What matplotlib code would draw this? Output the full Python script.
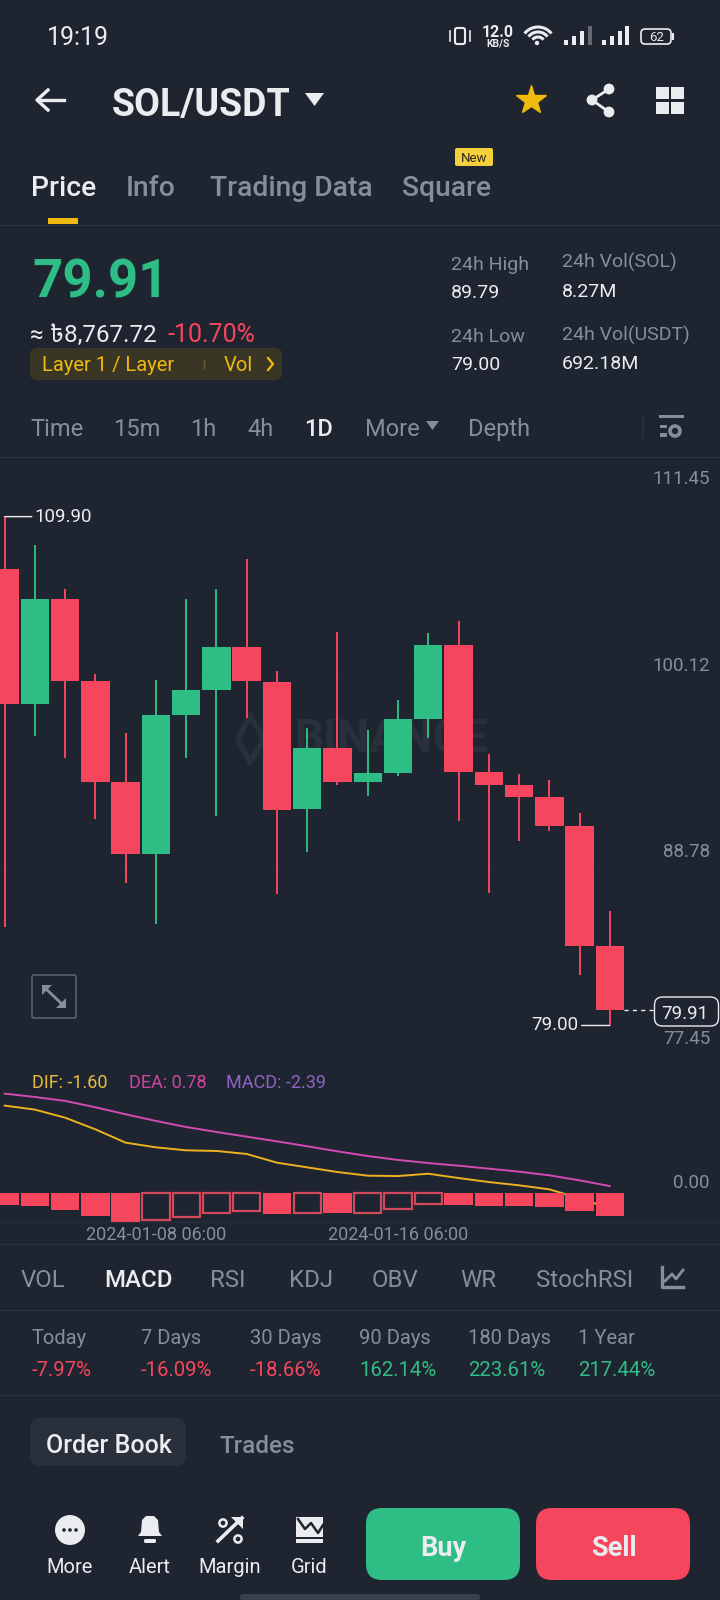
import matplotlib
matplotlib.use('Agg')
import matplotlib.pyplot as plt
from matplotlib.patches import Rectangle, FancyBboxPatch, Circle, Polygon, Arc

plt.rcParams['font.family'] = ['Roboto', 'Noto Sans Bengali', 'Noto Sans', 'DejaVu Sans']

BG = '#1E2530'
RED = '#F6465D'
GREEN = '#2EBD85'
YELLOW = '#F0B90B'
GRAY = '#848E9C'
WHITE = '#EAECEF'
LINE = '#2B323D'

# daily candles, first one is clipped by the left edge
opens = [106.71, 98.53, 104.92, 99.93, 93.76, 89.44, 97.88, 99.37, 101.99, 99.88, 92.14,
         95.83, 93.81, 94.35, 97.60, 102.11, 94.39, 93.60, 92.86, 91.09, 83.81]
closes = [98.53, 104.92, 99.93, 93.76, 89.44, 97.88, 99.37, 101.99, 99.90, 92.11, 95.83,
          93.81, 94.35, 97.60, 102.11, 94.39, 93.60, 92.86, 91.09, 83.81, 79.91]
highs = [109.90, 108.18, 105.48, 100.32, 96.79, 99.95, 104.90, 105.51, 107.34, 100.51, 97.07,
         102.88, 96.95, 98.74, 102.81, 103.58, 95.48, 94.25, 93.93, 91.88, 85.98]
lows = [84.98, 96.60, 95.25, 91.53, 87.67, 85.14, 95.25, 91.69, 97.69, 87.00, 89.51,
        93.62, 92.95, 94.16, 96.48, 91.42, 87.02, 90.18, 90.79, 82.07, 79.00]
price_ticks = [111.45, 100.12, 88.78, 77.45]

dif = [9.38, 8.95, 8.09, 6.84, 5.42, 4.92, 4.60, 4.53, 4.21, 3.28, 2.78,
       2.28, 1.89, 1.85, 2.10, 1.64, 1.21, 0.86, 0.43, -0.53, -1.60]
dea = [10.66, 10.30, 9.88, 9.20, 8.45, 7.74, 7.09, 6.56, 6.06, 5.56, 5.03,
       4.49, 3.99, 3.57, 3.24, 2.96, 2.64, 2.32, 1.93, 1.39, 0.78]
macd = [-1.25, -1.35, -1.78, -2.39, -3.03, -2.85, -2.53, -2.10, -1.93, -2.25, -2.12,
        -2.14, -2.07, -1.71, -1.14, -1.25, -1.32, -1.39, -1.46, -1.93, -2.39]
date_ticks = [5, 13]
date_labels = ['2024-01-08 06:00', '2024-01-16 06:00']

tabs = ['Price', 'Info', 'Trading Data', 'Square']
tab_x = [31, 126, 210, 402]
periods = ['Time', '15m', '1h', '4h', '1D', 'More', 'Depth']
period_x = [30, 113, 190, 247, 304, 365, 468]
indicators = ['VOL', 'MACD', 'RSI', 'KDJ', 'OBV', 'WR', 'StochRSI']
indicator_x = [21, 104, 210, 289, 372, 460, 536]
change_names = ['Today', '7 Days', '30 Days', '90 Days', '180 Days', '1 Year']
change_vals = ['-7.97%', '-16.09%', '-18.66%', '162.14%', '223.61%', '217.44%']
change_x = [32, 141, 250, 359, 468, 578]
bottom_names = ['More', 'Alert', 'Margin', 'Grid']
bottom_x = [70, 150, 230, 309]

fig = plt.figure(figsize=(7.2, 16), dpi=100, facecolor=BG)

# whole page in pixel coordinates, for the app chrome
ui = fig.add_axes([0, 0, 1, 1])
ui.set_xlim(0, 720)
ui.set_ylim(1600, 0)
ui.axis('off')


def t(x, y, s, size=14, color=WHITE, ha='left', weight='normal', ax=ui):
    # y is the middle of the capital letters
    return ax.text(x, y + 0.355 * size * 100 / 72, s, fontsize=size, color=color, ha=ha,
                   va='baseline', fontweight=weight)


def box(x0, y0, x1, y1, color, r=0, **kw):
    if r:
        p = FancyBboxPatch((x0 + r, y0 + r), x1 - x0 - 2 * r, y1 - y0 - 2 * r,
                           boxstyle=f'round,pad={r},rounding_size={r}', fc=color, ec='none', **kw)
    else:
        p = Rectangle((x0, y0), x1 - x0, y1 - y0, fc=color, ec='none', **kw)
    ui.add_patch(p)
    return p


# status bar
t(47, 36, '19:19', 18, WHITE)
ui.add_patch(FancyBboxPatch((455, 28), 10, 16, boxstyle='round,pad=0,rounding_size=2', fc='none', ec=WHITE, lw=1.5))
ui.plot([450, 450], [31, 41], color=WHITE, lw=1.2)
ui.plot([470, 470], [31, 41], color=WHITE, lw=1.2)
t(498, 31, '12.0', 11.5, WHITE, ha='center', weight='bold')
t(498, 43, 'KB/S', 7.5, WHITE, ha='center', weight='bold')
for d in (34, 24, 14):
    ui.add_patch(Arc((538, 44), d, d, theta1=218, theta2=322, color=WHITE, lw=2.2))
ui.add_patch(Circle((537, 43), 2.2, fc=WHITE, ec='none'))
for x0, alpha in ((564, 1), (572, 1), (580, 1), (588, 0.35)):
    h = {564: 5, 572: 9, 580: 14, 588: 19}[x0]
    box(x0, 45 - h, x0 + 3.5, 45, WHITE, alpha=alpha)
for x0, h in ((602, 5), (610, 9), (618, 14), (625, 19)):
    box(x0, 45 - h, x0 + 3.5, 45, WHITE)
ui.add_patch(FancyBboxPatch((641, 29), 30, 15, boxstyle='round,pad=0,rounding_size=4', fc='none', ec=WHITE, lw=1.2))
box(672, 33, 674, 40, WHITE)
t(656.5, 36.5, '62', 9.5, WHITE, ha='center')

# title row
ui.plot([38, 64], [100, 100], color=WHITE, lw=2.4)
ui.plot([48, 37, 48], [90, 100, 110], color=WHITE, lw=2.4)
t(112, 103, 'SOL/USDT', 27, WHITE, weight='bold')
ui.add_patch(Polygon([(305, 93), (324, 93), (314.5, 106)], fc=WHITE, ec='none'))
ui.plot([531], [100], marker='*', ms=22, color=YELLOW, mec=YELLOW)
for c in ((609, 89), (592, 100), (609, 112)):
    ui.add_patch(Circle(c, 5.4, fc=WHITE, ec='none'))
ui.plot([609, 592, 609], [89, 100, 112], color=WHITE, lw=2)
for x0, y0 in ((656, 87), (671, 87), (656, 102), (671, 102)):
    box(x0, y0, x0 + 12.5, y0 + 11.5, WHITE)

# tabs
box(455, 148, 493, 166, '#F5CE3C', r=2)
t(474, 157, 'New', 9.5, '#2A2A20', ha='center')
for name, x in zip(tabs, tab_x):
    t(x, 186, name, 20.3, WHITE if name == 'Price' else GRAY, weight='medium')
box(48, 218, 78, 224, YELLOW)
ui.plot([0, 720], [224.5, 224.5], color=LINE, lw=1)

# price block
t(32, 279, '79.91', 38, GREEN, weight='bold')
t(30, 333, '≈ ৳8,767.72', 17.5, WHITE)
t(168, 333, '-10.70%', 18, RED)
box(30, 348, 282, 380, '#3A3626', r=7)
t(42, 364, 'Layer 1 / Layer', 14.5, YELLOW)
ui.plot([204, 204], [360, 368], color='#6B6032', lw=1)
t(224, 364, 'Vol', 14.5, YELLOW)
ui.plot([268, 273, 268], [358, 364, 370], color=YELLOW, lw=1.6)

t(451, 263, '24h High', 14, GRAY)
t(451, 291, '89.79', 14, WHITE)
t(451, 335, '24h Low', 14, GRAY)
t(451, 363, '79.00', 14, WHITE)
t(562, 261, '24h Vol(SOL)', 14, GRAY)
t(562, 290, '8.27M', 14, WHITE)
t(562, 334, '24h Vol(USDT)', 14, GRAY)
t(562, 362, '692.18M', 14, WHITE)

# period row
for name, x in zip(periods, period_x):
    t(x, 428, name, 17, WHITE if name == '1D' else GRAY, weight='medium' if name == '1D' else 'normal')
ui.add_patch(Polygon([(426, 421), (439, 421), (432.5, 430)], fc=GRAY, ec='none'))
ui.plot([643, 643], [415, 438], color=LINE, lw=1.2)
box(659, 415, 684, 418, GRAY)
box(660, 425, 667, 428, GRAY)
box(660, 433, 667, 437, GRAY)
ui.add_patch(Circle((675, 431), 5, fc='none', ec=GRAY, lw=2.6))
ui.plot([0, 720], [456.5, 456.5], color=LINE, lw=1)

# candle chart
ax = fig.add_axes([0, 1 - 1051 / 1600, 1, (1051 - 457) / 1600])
ax.patch.set_alpha(0)
ax.set_xlim(-0.152, 23.64)
ax.set_ylim(77.45, 113.52)
for s in ax.spines.values():
    s.set_visible(False)
ax.set_xticks([])
ax.set_yticks([])
for p in price_ticks:
    ax.axhline(p, color='#222934', lw=0.8, zorder=0)

ax.text(294, 739, 'BINANCE', transform=ui.transData, fontsize=33, color='#29303B', va='center',
        fontweight='bold', zorder=0.5)
ui.add_patch(Polygon([(250, 716), (264, 739), (250, 762), (238, 739)], fc='none', ec='#29303B', lw=4))

for i in range(len(opens)):
    col = GREEN if closes[i] > opens[i] else RED
    ax.vlines(i, lows[i], highs[i], color=col, lw=1.4, zorder=2)
    ax.bar(i, abs(closes[i] - opens[i]), bottom=min(opens[i], closes[i]), width=0.94, color=col, zorder=3)

for p in price_ticks:
    ax.annotate(f'{p:.2f}', xy=(1, p), xycoords=('axes fraction', 'data'), xytext=(-10, 12),
                textcoords='offset pixels', fontsize=13.5, color=GRAY, ha='right', va='center')

ax.annotate(f'{highs[0]:.2f}', xy=(0, highs[0]), xytext=(30, 0), textcoords='offset pixels', fontsize=13.5,
            color=WHITE, va='center', arrowprops=dict(arrowstyle='-', color=WHITE, lw=1, shrinkA=0, shrinkB=0))
ax.annotate(f'{lows[20]:.2f}', xy=(20, lows[20]), xytext=(-31, 0), textcoords='offset pixels', fontsize=13.5,
            color=WHITE, va='center', ha='right',
            arrowprops=dict(arrowstyle='-', color=WHITE, lw=1, shrinkA=0, shrinkB=0))
ax.plot([20.47, 21.45], [closes[20], closes[20]], color=WHITE, lw=1, ls=(0, (3, 3)), zorder=4)

pill = FancyBboxPatch((654.5, 997), 64, 29, boxstyle='round,pad=0,rounding_size=8', fc=BG, ec=WHITE, lw=1, zorder=6)
ui.add_patch(pill)

ui.add_patch(FancyBboxPatch((32, 975), 44, 43, boxstyle='round,pad=0,rounding_size=2', fc='none', ec='#59616D', lw=1.2))
ui.add_patch(Polygon([(42, 985), (52, 985), (42, 995)], fc=GRAY, ec='none'))
ui.add_patch(Polygon([(66, 1008), (56, 1008), (66, 998)], fc=GRAY, ec='none'))
ui.plot([44, 64], [987, 1006], color=GRAY, lw=2)

# MACD panel
mx = fig.add_axes([0, 1 - 1222 / 1600, 1, (1222 - 1053) / 1600])
mx.patch.set_alpha(0)
mx.set_xlim(-0.152, 23.64)
mx.set_ylim(-3.06, 15.0)
for s in mx.spines.values():
    s.set_visible(False)
mx.spines['bottom'].set_visible(True)
mx.spines['bottom'].set_color('#272E39')
mx.set_yticks([])
mx.set_xticks(date_ticks)
mx.set_xticklabels(date_labels, fontsize=13, color=GRAY)
mx.tick_params(axis='x', length=0, pad=3)

idx = list(range(len(macd)))
mx.plot(idx, dif, color='#EDB120', lw=1.4, zorder=1)
mx.plot(idx, dea, color='#D24BB0', lw=1.4, zorder=1)
for i, v in enumerate(macd):
    if i > 0 and v > macd[i - 1]:
        mx.bar(i, v, width=0.9, facecolor=BG, edgecolor='#D2485C', lw=1.6, zorder=2)
    else:
        mx.bar(i, v, width=0.94, color=RED, zorder=2)
mx.text(709, 1183, '0.00', transform=ui.transData, fontsize=13.5, color=GRAY, ha='right', va='center')

t(32, 1082, 'DIF: -1.60', 13, '#E8BC3C')
t(129, 1082, 'DEA: 0.78', 13, '#C9479F')
t(226, 1082, 'MACD: -2.39', 13, '#8D62C4')
ui.plot([0, 720], [1243.5, 1243.5], color=LINE, lw=1)

# indicator row
for name, x in zip(indicators, indicator_x):
    t(x, 1278, name, 17.3, WHITE if name == 'MACD' else GRAY, weight='medium' if name == 'MACD' else 'normal')
ui.plot([662, 662, 683], [1267, 1287, 1287], color=GRAY, lw=2.4)
ui.plot([665, 672, 676, 683], [1281, 1274, 1279, 1270], color=GRAY, lw=2)
ui.plot([0, 720], [1310, 1310], color=LINE, lw=1)

# change table
for name, val, x in zip(change_names, change_vals, change_x):
    t(x, 1337, name, 14.5, GRAY)
    t(x, 1369, val, 14.7, RED if val.startswith('-') else GREEN)
ui.plot([0, 720], [1395, 1395], color=LINE, lw=1)

box(30, 1418, 186, 1466, '#2A303B', r=10)
t(109, 1444, 'Order Book', 18, WHITE, ha='center', weight='medium')
t(219, 1444, 'Trades', 17.5, GRAY, weight='medium')

# bottom bar
for name, x in zip(bottom_names, bottom_x):
    t(x, 1566, name, 14.5, WHITE, ha='center')
ui.add_patch(Circle((70, 1530), 15, fc=WHITE, ec='none'))
for dx in (-6, 0, 6):
    ui.add_patch(Circle((70 + dx, 1530), 1.8, fc=BG, ec='none'))
ui.add_patch(Polygon([(141, 1532), (142, 1520), (146, 1516), (154, 1516), (158, 1520), (159, 1532), (162, 1536), (138, 1536)],
                     fc=WHITE, ec='none'))
box(144, 1539, 156, 1543, WHITE, r=1.5)
ui.plot([218, 242], [1541, 1518], color=WHITE, lw=2.6)
ui.add_patch(Polygon([(231, 1517), (243, 1517), (243, 1529)], fc=WHITE, ec='none'))
ui.add_patch(Circle((223, 1523), 3.6, fc=BG, ec=WHITE, lw=1.8))
ui.add_patch(Circle((238, 1539), 3.6, fc=BG, ec=WHITE, lw=1.8))
ui.add_patch(Polygon([(296, 1517), (323, 1517), (323, 1537), (296, 1537)], fc=WHITE, ec='none'))
ui.plot([298, 305, 311, 318, 323], [1519, 1529, 1523, 1533, 1525], color=BG, lw=1.8)
box(296, 1539, 323, 1543, WHITE)

box(366, 1508, 520, 1580, GREEN, r=16)
t(443, 1546, 'Buy', 19.5, WHITE, ha='center', weight='bold')
box(536, 1508, 690, 1580, RED, r=16)
t(614, 1546, 'Sell', 19.5, WHITE, ha='center', weight='bold')
box(240, 1594, 480, 1600, '#3A404A', r=2)

t(685, 1012, '79.91', 13.5, WHITE, ha='center').set_zorder(7)

fig.savefig('out.png', dpi=100, facecolor=BG)
